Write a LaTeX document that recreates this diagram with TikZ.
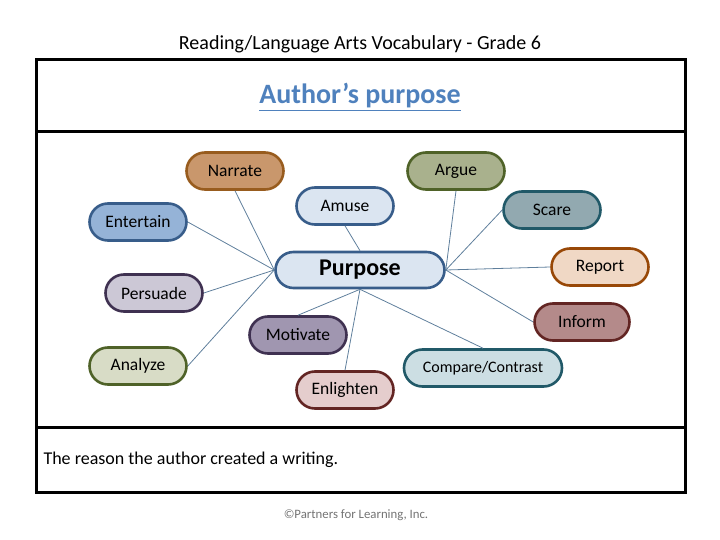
\documentclass[tikz,border=0pt]{standalone}
\usepackage{fontspec}
\setmainfont{Carlito}
\usetikzlibrary{shapes.misc}
\definecolor{conn}{HTML}{5F7F9C}
\definecolor{ttlblue}{HTML}{4F81BD}
\tikzset{
  pill/.style={rounded rectangle, draw, line width=2.6pt, inner sep=0pt,
    minimum width=97pt, minimum height=37pt, font=\fontsize{17.5}{20}\selectfont},
  link/.style={draw=conn, line width=0.8pt},
  frame/.style={line width=3pt, draw=black}
}
\begin{document}
\begin{tikzpicture}[x=1pt,y=-1pt]
\useasboundingbox (0,0) rectangle (720,540);
% frame
\draw[frame] (36,60) rectangle (685,492);
\draw[frame] (36,132) -- (685,132);
\draw[frame] (36,427) -- (685,427);
% texts
\node (title) at (360,44) {\fontsize{20}{24}\selectfont Reading/Language Arts Vocabulary - Grade 6};
\node[text=ttlblue] (ap) at (360,97) {\fontsize{28}{32}\selectfont\bfseries\underline{Author’s purpose}};
\node[anchor=west] (def) at (40,460) {\fontsize{18}{22}\selectfont The reason the author created a writing.};
\node[text=black!55] (foot) at (356,515) {\fontsize{12.8}{15}\selectfont ©Partners for Learning, Inc.};
% nodes
\node[pill, fill={rgb,255:red,201;green,151;blue,108}, draw={rgb,255:red,152;green,92;blue,30}] (narrate) at (235,171) {Narrate};
\node[pill, fill={rgb,255:red,149;green,179;blue,215}, draw={rgb,255:red,56;green,93;blue,138}] (entertain) at (138,222) {Entertain};
\node[pill, fill={rgb,255:red,219;green,229;blue,241}, draw={rgb,255:red,56;green,93;blue,138}] (amuse) at (345,206) {Amuse};
\node[pill, minimum width=169pt, minimum height=36pt, font=\fontsize{24}{28}\selectfont\bfseries, fill={rgb,255:red,219;green,229;blue,241}, draw={rgb,255:red,56;green,93;blue,138}] (purpose) at (360,270) {Purpose};
\node[pill, fill={rgb,255:red,204;green,200;blue,214}, draw={rgb,255:red,63;green,49;blue,81}] (persuade) at (154,293) {Persuade};
\node[pill, fill={rgb,255:red,169;green,177;blue,141}, draw={rgb,255:red,79;green,98;blue,40}] (argue) at (456,171) {Argue};
\node[pill, fill={rgb,255:red,146;green,169;blue,176}, draw={rgb,255:red,33;green,89;blue,104}] (scare) at (552,210) {Scare};
\node[pill, fill={rgb,255:red,240;green,216;blue,197}, draw={rgb,255:red,152;green,72;blue,7}] (report) at (600,267) {Report};
\node[pill, minimum width=95pt, fill={rgb,255:red,180;green,138;blue,138}, draw={rgb,255:red,99;green,37;blue,35}] (inform) at (582,322) {Inform};
\node[pill, fill={rgb,255:red,160;green,150;blue,176}, draw={rgb,255:red,63;green,49;blue,81}] (motivate) at (298,335) {Motivate};
\node[pill, fill={rgb,255:red,216;green,220;blue,198}, draw={rgb,255:red,79;green,98;blue,40}] (analyze) at (138,366) {Analyze};
\node[pill, fill={rgb,255:red,229;green,205;blue,205}, draw={rgb,255:red,99;green,37;blue,35}] (enlighten) at (345,390) {Enlighten};
\node[pill, minimum width=158pt, font=\fontsize{16}{19}\selectfont, fill={rgb,255:red,204;green,222;blue,227}, draw={rgb,255:red,33;green,89;blue,104}] (compare) at (483,368) {Compare/Contrast};
% connectors
\draw[link] (narrate.south) -- (purpose.west);
\draw[link] (entertain.east) -- (purpose.west);
\draw[link] (persuade.east) -- (purpose.west);
\draw[link] (analyze.east) -- (purpose.west);
\draw[link] (amuse.south) -- (purpose.north);
\draw[link] (argue.south) -- (purpose.east);
\draw[link] (scare.west) -- (purpose.east);
\draw[link] (report.west) -- (purpose.east);
\draw[link] (inform.west) -- (purpose.east);
\draw[link] (motivate.north) -- (purpose.south);
\draw[link] (enlighten.north) -- (purpose.south);
\draw[link] (compare.north) -- (purpose.south);
\end{tikzpicture}
\end{document}
